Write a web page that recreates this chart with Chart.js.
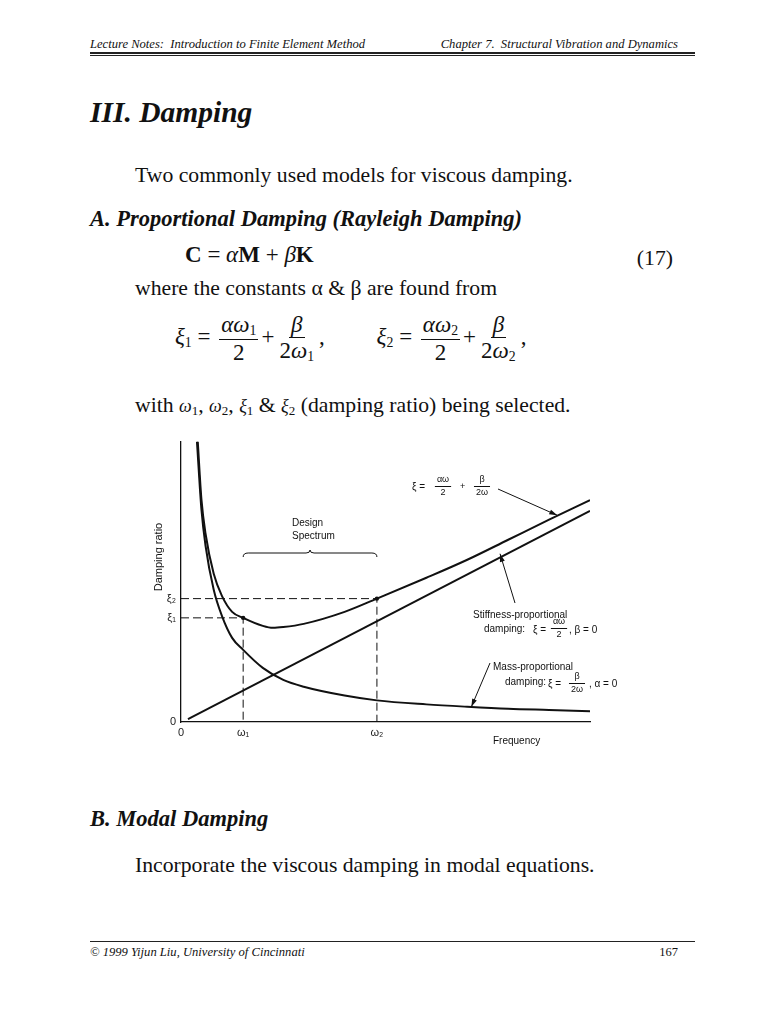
<!DOCTYPE html>
<html>
<head>
<meta charset="utf-8">
<script src="https://cdn.jsdelivr.net/npm/chart.js@4.4.0/dist/chart.umd.min.js"></script>
<style>
  html, body { margin: 0; padding: 0; background: #fff; }
  #page { position: relative; width: 768px; height: 1024px; font-family: "Liberation Serif", serif; color: #111; }
  .t { position: absolute; white-space: nowrap; line-height: 1; }
  .hdr { font-style: italic; font-size: 12.6px; }
  .h1 { font-weight: bold; font-style: italic; font-size: 29.5px; }
  .h2 { font-weight: bold; font-style: italic; font-size: 22.5px; }
  .body { font-size: 21.7px; }
  .g { font-style: italic; }
  .frac { display: inline-flex; flex-direction: column; align-items: center; vertical-align: middle; margin: 0 3px; }
  .frac .num { border-bottom: 1px solid #111; padding: 0 2px 1px 2px; }
  .frac .den { padding: 1px 2px 0 2px; }
  sub { font-size: 60%; vertical-align: -0.25em; }
  .rule { position: absolute; left: 90px; width: 605px; background: #222; }
  #chartBox { position: absolute; left: 130px; top: 430px; width: 560px; height: 330px; }
</style>
</head>
<body>
<div id="page">
  <div class="t hdr" style="left:90px; top:38px;">Lecture Notes:&nbsp; Introduction to Finite Element Method</div>
  <div class="t hdr" style="right:90px; top:38px;">Chapter 7.&nbsp; Structural Vibration and Dynamics</div>
  <div class="rule" style="top:52px; height:2px;"></div>
  <div class="rule" style="top:55px; height:1px;"></div>

  <div class="t h1" style="left:90px; top:98px;">III. Damping</div>
  <div class="t body" style="left:135px; top:165px;">Two commonly used models for viscous damping.</div>

  <div class="t h2" style="left:90px; top:208px;">A. Proportional Damping (Rayleigh Damping)</div>
  <div class="t" style="left:185px; top:243px; font-size:23px;"><b>C</b> = <span class="g">α</span><b>M</b> + <span class="g">β</span><b>K</b></div>
  <div class="t body" style="right:95px; top:248px;">(17)</div>
  <div class="t body" style="left:135px; top:278px;">where the constants α &amp; β are found from</div>

  <div class="t" style="left:175px; top:313px; font-size:23px;">
    <span class="g">ξ</span><sub>1</sub> =
    <span class="frac"><span class="num"><span class="g">αω</span><sub>1</sub></span><span class="den">2</span></span>+<span class="frac"><span class="num"><span class="g">β</span></span><span class="den">2<span class="g">ω</span><sub>1</sub></span></span>,
    &nbsp;&nbsp;&nbsp;&nbsp;&nbsp;&nbsp;&nbsp;
    <span class="g">ξ</span><sub>2</sub> =
    <span class="frac"><span class="num"><span class="g">αω</span><sub>2</sub></span><span class="den">2</span></span>+<span class="frac"><span class="num"><span class="g">β</span></span><span class="den">2<span class="g">ω</span><sub>2</sub></span></span>,
  </div>

  <div class="t body" style="left:135px; top:395px;">with <span class="g" style="font-size:18px">ω</span><sub>1</sub>, <span class="g" style="font-size:18px">ω</span><sub>2</sub>, <span class="g" style="font-size:18px">ξ</span><sub>1</sub> &amp; <span class="g" style="font-size:18px">ξ</span><sub>2</sub> (damping ratio) being selected.</div>

  <div id="chartBox"><canvas id="dampingChart" width="560" height="330"></canvas></div>

  <div class="t h2" style="left:90px; top:808px;">B. Modal Damping</div>
  <div class="t body" style="left:135px; top:855px;">Incorporate the viscous damping in modal equations.</div>

  <div class="rule" style="top:941px; height:1px;"></div>
  <div class="t hdr" style="left:90px; top:946px;">© 1999 Yijun Liu, University of Cincinnati</div>
  <div class="t" style="right:90px; top:946px; font-size:12.5px;">167</div>
</div>

<script>
// frequency samples (x axis runs 0..10)
var massFreq = [0.39, 0.5, 0.6, 0.8, 1.0, 1.25, 1.52, 2.0, 2.5, 3.0, 4.0, 4.79, 6.0, 7.0, 8.0, 9.0, 10.0];
var massRatio = [7.0, 5.3, 4.4, 3.3, 2.65, 2.1, 1.8, 1.35, 1.05, 0.88, 0.66, 0.54, 0.44, 0.38, 0.33, 0.3, 0.27];

var rayleighFreq = [0.41, 0.5, 0.6, 0.8, 1.0, 1.25, 1.52, 2.0, 2.25, 2.5, 3.0, 4.0, 4.79, 6.0, 7.0, 8.0, 9.0, 10.0];
var rayleighRatio = [7.0, 5.55, 4.7, 3.7, 3.15, 2.75, 2.6, 2.4, 2.35, 2.37, 2.45, 2.75, 3.08, 3.6, 4.05, 4.55, 5.05, 5.54];

var stiffFreq = [0.17, 10.0];
var stiffRatio = [0.07, 5.27];

// selected frequencies and damping ratios
var omega = [1.52, 4.79];
var xi = [2.6, 3.08];

var xTickLabels = ['0', 'ω₁', 'ω₂'];
var yTickLabels = ['0', 'ξ₁', 'ξ₂'];

function pts(xs, ys) {
    return xs.map(function (x, i) { return { x: x, y: ys[i] }; });
}

var ink = '#111';
var sans = '"Liberation Sans", Arial, sans-serif';

function arrow(ctx, x1, y1, x2, y2) {
    var a = Math.atan2(y2 - y1, x2 - x1);
    ctx.beginPath();
    ctx.moveTo(x1, y1);
    ctx.lineTo(x2, y2);
    ctx.stroke();
    ctx.beginPath();
    ctx.moveTo(x2, y2);
    ctx.lineTo(x2 - 8 * Math.cos(a) + 2.5 * Math.sin(a), y2 - 8 * Math.sin(a) - 2.5 * Math.cos(a));
    ctx.lineTo(x2 - 8 * Math.cos(a) - 2.5 * Math.sin(a), y2 - 8 * Math.sin(a) + 2.5 * Math.cos(a));
    ctx.closePath();
    ctx.fill();
}

function frac(ctx, num, den, cx, cy) {
    var w = Math.max(ctx.measureText(num).width, ctx.measureText(den).width) + 4;
    ctx.textAlign = 'center';
    ctx.fillText(num, cx, cy - 6);
    ctx.fillText(den, cx, cy + 7);
    ctx.beginPath();
    ctx.moveTo(cx - w / 2, cy + 0.5);
    ctx.lineTo(cx + w / 2, cy + 0.5);
    ctx.stroke();
    ctx.textAlign = 'left';
}

// page coords -> canvas coords (canvas sits at 130,430)
function px(x) { return x - 130; }
function py(y) { return y - 430; }

var notes = {
    id: 'notes',
    afterDraw: function (chart) {
        var ctx = chart.ctx;
        var xs = chart.scales.x, ys = chart.scales.y;
        ctx.save();
        ctx.fillStyle = ink;
        ctx.strokeStyle = ink;
        ctx.lineWidth = 1;
        ctx.textBaseline = 'middle';

        // axis title
        ctx.save();
        ctx.font = '11px ' + sans;
        ctx.translate(px(159), py(557));
        ctx.rotate(-Math.PI / 2);
        ctx.textAlign = 'center';
        ctx.fillText('Damping ratio', 0, 0);
        ctx.restore();

        ctx.font = '10px ' + sans;
        ctx.fillText('Frequency', px(493), py(741));

        // design spectrum brace
        ctx.fillText('Design', px(292), py(523));
        ctx.fillText('Spectrum', px(292), py(536));
        var bl = xs.getPixelForValue(omega[0]), br = xs.getPixelForValue(omega[1]);
        var bm = (bl + br) / 2, by = py(553);
        ctx.beginPath();
        ctx.moveTo(bl, by + 4);
        ctx.quadraticCurveTo(bl, by, bl + 5, by);
        ctx.lineTo(bm - 4, by);
        ctx.quadraticCurveTo(bm, by, bm, by - 3);
        ctx.quadraticCurveTo(bm, by, bm + 4, by);
        ctx.lineTo(br - 5, by);
        ctx.quadraticCurveTo(br, by, br, by + 4);
        ctx.stroke();

        // rayleigh label
        ctx.font = '10px ' + sans;
        ctx.fillText('ξ =', px(412), py(487));
        ctx.font = '9px ' + sans;
        frac(ctx, 'αω', '2', px(443), py(486));
        ctx.fillText('+', px(460), py(487));
        frac(ctx, 'β', '2ω', px(482), py(486));
        arrow(ctx, px(498), py(489), xs.getPixelForValue(9.2), ys.getPixelForValue(5.16));

        // stiffness label
        ctx.font = '10px ' + sans;
        ctx.fillText('Stiffness-proportional', px(473), py(615));
        ctx.fillText('damping:', px(484), py(629));
        ctx.fillText('ξ =', px(533), py(630));
        ctx.font = '9px ' + sans;
        frac(ctx, 'αω', '2', px(559), py(628));
        ctx.font = '10px ' + sans;
        ctx.fillText(', β = 0', px(569), py(630));
        arrow(ctx, px(515), py(603), xs.getPixelForValue(7.8), ys.getPixelForValue(4.2));

        // mass label
        ctx.fillText('Mass-proportional', px(493), py(667));
        ctx.fillText('damping:', px(505), py(682));
        ctx.fillText('ξ =', px(548), py(684));
        ctx.font = '9px ' + sans;
        frac(ctx, 'β', '2ω', px(577), py(683));
        ctx.font = '10px ' + sans;
        ctx.fillText(', α = 0', px(589), py(684));
        arrow(ctx, px(490), py(663), xs.getPixelForValue(7.1), ys.getPixelForValue(0.38));

        ctx.restore();
    }
};

var ctx = document.getElementById('dampingChart').getContext('2d');
var chart = new Chart(ctx, {
    type: 'line',
    data: {
        datasets: [
            {
                // Rayleigh (combined) damping
                data: pts(rayleighFreq, rayleighRatio),
                borderColor: ink, borderWidth: 2, pointRadius: 0,
                cubicInterpolationMode: 'monotone'
            },
            {
                // mass proportional
                data: pts(massFreq, massRatio),
                borderColor: ink, borderWidth: 2, pointRadius: 0,
                cubicInterpolationMode: 'monotone'
            },
            {
                // stiffness proportional
                data: pts(stiffFreq, stiffRatio),
                borderColor: ink, borderWidth: 2, pointRadius: 0
            },
            {
                data: [{ x: 0, y: xi[0] }, { x: omega[0], y: xi[0] }, { x: omega[0], y: 0 }],
                borderColor: ink, borderWidth: 1, borderDash: [8, 4], pointRadius: 0
            },
            {
                data: [{ x: 0, y: xi[1] }, { x: omega[1], y: xi[1] }, { x: omega[1], y: 0 }],
                borderColor: ink, borderWidth: 1, borderDash: [8, 4], pointRadius: 0
            },
            {
                data: pts(omega, xi),
                showLine: false, pointRadius: 2.2, pointBackgroundColor: ink, pointBorderWidth: 0
            }
        ]
    },
    options: {
        responsive: false,
        animation: false,
        layout: { padding: { left: 0, top: 8, right: 100, bottom: 0 } },
        plugins: { legend: { display: false }, tooltip: { enabled: false } },
        scales: {
            x: {
                type: 'linear', min: 0, max: 10,
                grid: { display: false, drawTicks: false },
                border: { display: true, color: ink, width: 1.3 },
                afterBuildTicks: function (s) { s.ticks = [0, omega[0], omega[1]].map(function (v) { return { value: v }; }); },
                afterFit: function (s) { s.height = 38; },
                ticks: {
                    autoSkip: false, maxRotation: 0, padding: 4, color: '#222',
                    font: { family: sans, size: 11 },
                    callback: function (v, i) { return xTickLabels[i]; }
                }
            },
            y: {
                type: 'linear', min: 0, max: 7,
                grid: { display: false, drawTicks: false },
                border: { display: true, color: ink, width: 1.3 },
                afterBuildTicks: function (s) { s.ticks = [0, xi[0], xi[1]].map(function (v) { return { value: v }; }); },
                afterFit: function (s) { s.width = 51; },
                ticks: {
                    autoSkip: false, padding: 5, color: '#222',
                    font: { family: sans, size: 11 },
                    callback: function (v, i) { return yTickLabels[i]; }
                }
            }
        }
    },
    plugins: [notes]
});
</script>
</body>
</html>
